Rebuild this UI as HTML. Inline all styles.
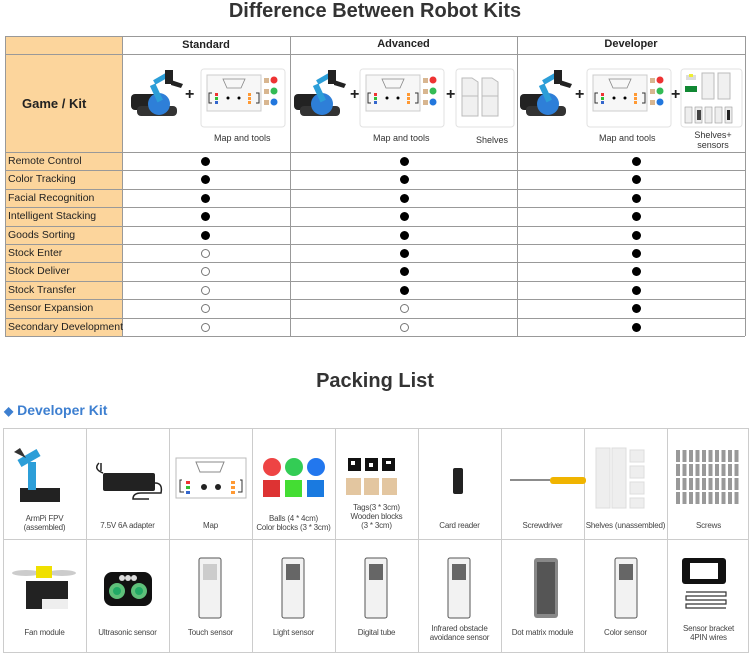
<!DOCTYPE html>
<html><head><meta charset="utf-8"><style>
*{margin:0;padding:0;box-sizing:border-box}
body{width:750px;height:655px;background:#fff;font-family:"Liberation Sans",sans-serif;position:relative;overflow:hidden;color:#222}
.a{position:absolute}
.t{position:absolute;font-size:11px;color:#333;white-space:nowrap}
.c{text-align:center}
.hl{position:absolute;height:1px;background:#999}
.vl{position:absolute;width:1px;background:#999}
.dot{position:absolute;width:9px;height:9px;border-radius:50%;background:#000}
.odot{position:absolute;width:9px;height:9px;border-radius:50%;border:1px solid #777;background:#fff}
.lab{position:absolute;left:8px;font-size:10.5px;color:#222;white-space:nowrap}
.plus{position:absolute;font-size:16px;font-weight:bold;color:#222}
.pv{position:absolute;width:1px;background:#ccc}
.pl{position:absolute;font-size:8px;color:#444;text-align:center;width:83px;line-height:9px;white-space:nowrap;letter-spacing:-0.2px}
</style></head><body>

<div class="a c" style="left:0;width:750px;top:0px;font-size:20px;font-weight:bold;color:#333">Difference Between Robot Kits</div>

<div class="a" style="left:5px;top:36px;width:117px;height:300px;background:#fcd59c"></div>
<div class="hl" style="left:5px;width:740px;top:36px"></div>
<div class="hl" style="left:5px;width:740px;top:54px"></div>
<div class="hl" style="left:5px;width:740px;top:152px"></div>
<div class="hl" style="left:5px;width:740px;top:336px"></div>
<div class="vl" style="left:5px;top:36px;height:300px"></div>
<div class="vl" style="left:122px;top:36px;height:300px"></div>
<div class="vl" style="left:290px;top:36px;height:300px"></div>
<div class="vl" style="left:517px;top:36px;height:300px"></div>
<div class="vl" style="left:745px;top:36px;height:300px"></div>

<div class="a c" style="left:122px;width:168px;top:39px;font-size:11px;font-weight:bold">Standard</div>
<div class="a c" style="left:290px;width:227px;top:38px;font-size:11px;font-weight:bold">Advanced</div>
<div class="a c" style="left:517px;width:228px;top:38px;font-size:11px;font-weight:bold">Developer</div>
<div class="a" style="left:22px;top:96px;font-size:13px;font-weight:bold;color:#222">Game / Kit</div>

<div id="rows"></div>

<svg class="a" style="left:0;top:0" width="750" height="160">
<defs>
<g id="robot">
 <rect x="0" y="22" width="30" height="16" rx="4" fill="#222"/>
 <rect x="6" y="34" width="40" height="10" rx="4" fill="#333"/>
 <circle cx="28" cy="32" r="11" fill="#2e7fd8"/>
 <rect x="22" y="12" width="6" height="18" fill="#2c9ed8" transform="rotate(-25 25 20)"/>
 <rect x="22" y="4" width="18" height="5" fill="#2c9ed8" transform="rotate(-30 30 6)"/>
 <rect x="34" y="-2" width="8" height="14" fill="#222"/>
 <path d="M40 8 l12 4 l-2 4 l-10 -3z" fill="#222"/>
</g>
<g id="map">
 <rect x="0" y="0" width="84" height="58" rx="3" fill="#fff" stroke="#e2e2e2"/>
 <rect x="6" y="6" width="54" height="36" fill="#f7f7f7" stroke="#ccc"/>
 <path d="M22 10 h22 l-4 9 h-14z" fill="none" stroke="#888" stroke-width=".8"/>
 <path d="M11 24 h-3 v10 h3 M55 24 h3 v10 h-3" fill="none" stroke="#333"/>
 <rect x="14" y="24" width="3" height="3" fill="#e33"/><rect x="14" y="28" width="3" height="3" fill="#3b3"/><rect x="14" y="32" width="3" height="3" fill="#36c"/>
 <circle cx="27" cy="29" r="1.5" fill="#000"/><circle cx="38" cy="29" r="1.5" fill="#000"/>
 <rect x="47" y="24" width="3" height="3" fill="#f93"/><rect x="47" y="28" width="3" height="3" fill="#f93"/><rect x="47" y="32" width="3" height="3" fill="#f93"/>
 <rect x="63" y="9" width="5" height="5" fill="#d8b690"/><circle cx="73" cy="11" r="3.5" fill="#e33"/>
 <rect x="63" y="20" width="5" height="5" fill="#d8b690"/><circle cx="73" cy="22" r="3.5" fill="#3b5"/>
 <rect x="63" y="31" width="5" height="5" fill="#d8b690"/><circle cx="73" cy="33" r="3.5" fill="#27d"/>
</g>
</defs>
<use href="#robot" x="131" y="72"/>
<use href="#map" x="201" y="69"/>
<use href="#robot" x="294" y="72"/>
<use href="#map" x="360" y="69"/>
<use href="#robot" x="520" y="72"/>
<use href="#map" x="587" y="69"/>
<rect x="456" y="69" width="58" height="58" rx="3" fill="#fff" stroke="#e2e2e2"/>
<path d="M462 78 h10 l6 4 v34 h-16z M482 78 h10 l6 4 v34 h-16z" fill="#f0f0f0" stroke="#bbb"/>
<path d="M462 96 h16 M482 96 h16" stroke="#bbb"/>
<rect x="681" y="69" width="61" height="58" rx="3" fill="#fff" stroke="#e2e2e2"/>
<rect x="686" y="75" width="10" height="5" fill="#ddd"/><rect x="689" y="74" width="4" height="3" fill="#ee3"/>
<rect x="685" y="86" width="12" height="6" fill="#183"/>
<path d="M702 73 h12 v26 h-12z M718 73 h12 v26 h-12z" fill="#f0f0f0" stroke="#bbb"/>
<g fill="#eee" stroke="#999" stroke-width=".6"><rect x="685" y="107" width="7" height="16"/><rect x="695" y="107" width="7" height="16"/><rect x="705" y="107" width="7" height="16"/><rect x="715" y="107" width="7" height="16"/><rect x="725" y="107" width="7" height="16"/></g>
<rect x="697" y="110" width="4" height="10" fill="#444"/><rect x="727" y="110" width="3" height="10" fill="#222"/>
</svg>
<div class="plus" style="left:185px;top:86px">+</div>
<div class="plus" style="left:350px;top:86px">+</div>
<div class="plus" style="left:446px;top:86px">+</div>
<div class="plus" style="left:575px;top:86px">+</div>
<div class="plus" style="left:671px;top:86px">+</div>
<div class="t" style="left:214px;top:133px;font-size:9px">Map and tools</div>
<div class="t" style="left:373px;top:133px;font-size:9px">Map and tools</div>
<div class="t" style="left:476px;top:135px;font-size:9px">Shelves</div>
<div class="t" style="left:599px;top:133px;font-size:9px">Map and tools</div>
<div class="t c" style="left:686px;width:54px;top:130px;font-size:9px;line-height:10px">Shelves+<br>sensors</div>

<div class="a c" style="left:0;width:750px;top:370px;font-size:20px;font-weight:bold;color:#333">Packing List</div>
<div class="a" style="left:4px;top:402px;font-size:14px;font-weight:bold;color:#3d7fd0"><span style="font-size:12px">◆</span> Developer Kit</div>

<div class="a" style="left:3px;top:428px;width:746px;height:225px;border:1px solid #ccc"></div>
<div class="a" style="left:3px;top:539px;width:746px;height:1px;background:#ccc"></div>
<div id="pv"></div>

<svg class="a" style="left:0;top:428px" width="750" height="225">
<g transform="translate(10,20)"><rect x="10" y="40" width="40" height="14" fill="#222"/><rect x="18" y="14" width="8" height="28" fill="#2c9ed8"/><rect x="8" y="6" width="22" height="8" fill="#2c9ed8" transform="rotate(-30 19 10)"/><path d="M4 4 l6 -4 l6 10 z" fill="#333"/></g>
<g transform="translate(97,35)"><rect x="6" y="10" width="52" height="18" rx="2" fill="#222"/><path d="M4 0 v8 M6 10 q-10 -4 -4 -10 M58 20 q8 0 6 10 h-20 q-8 0 -8 6 h16" stroke="#222" fill="none" stroke-width="1.5"/></g>
<g transform="translate(176,30)"><rect x="0" y="0" width="70" height="40" fill="#fff" stroke="#bbb"/><path d="M20 4 h28 l-4 10 h-20z" fill="none" stroke="#888"/><path d="M6 22 h-2 v12 h4 M64 22 h2 v12 h-4" stroke="#333" fill="none"/><rect x="10" y="23" width="4" height="3" fill="#e33"/><rect x="10" y="28" width="4" height="3" fill="#3b3"/><rect x="10" y="33" width="4" height="3" fill="#36c"/><circle cx="28" cy="29" r="3" fill="#222"/><circle cx="42" cy="29" r="3" fill="#222"/><rect x="55" y="23" width="4" height="3" fill="#f93"/><rect x="55" y="28" width="4" height="3" fill="#f93"/><rect x="55" y="33" width="4" height="3" fill="#f93"/></g>
<g transform="translate(262,30)"><circle cx="10" cy="9" r="9" fill="#ee4444"/><circle cx="32" cy="9" r="9" fill="#33cc55"/><circle cx="54" cy="9" r="9" fill="#2277ee"/><rect x="1" y="22" width="17" height="17" fill="#dd3333"/><rect x="23" y="22" width="17" height="17" fill="#44dd33"/><rect x="45" y="22" width="17" height="17" fill="#1a7ae0"/></g>
<g transform="translate(348,30)"><rect x="0" y="0" width="13" height="13" fill="#111"/><rect x="17" y="0" width="13" height="13" fill="#111"/><rect x="34" y="0" width="13" height="13" fill="#111"/><rect x="3" y="3" width="4" height="4" fill="#fff"/><rect x="21" y="5" width="4" height="4" fill="#fff"/><rect x="38" y="3" width="5" height="3" fill="#fff"/><rect x="-2" y="20" width="15" height="17" fill="#e3c6a0"/><rect x="16" y="20" width="15" height="17" fill="#e3c6a0"/><rect x="34" y="20" width="15" height="17" fill="#e3c6a0"/></g>
<rect x="453" y="40" width="10" height="26" rx="2" fill="#222"/>
<g transform="translate(510,52)"><path d="M0 0 h40" stroke="#666" stroke-width="1.5"/><rect x="40" y="-3" width="36" height="7" rx="3" fill="#f0b400"/></g>
<g fill="#eee" stroke="#ddd"><rect x="596" y="20" width="14" height="60"/><rect x="612" y="20" width="14" height="60"/><rect x="630" y="22" width="14" height="12"/><rect x="630" y="38" width="14" height="12"/><rect x="630" y="54" width="14" height="12"/><rect x="630" y="70" width="14" height="10"/></g>
<g id="scr" fill="#999"></g>
<g transform="translate(12,135)"><ellipse cx="14" cy="10" rx="14" ry="3" fill="#ccc"/><ellipse cx="50" cy="10" rx="14" ry="3" fill="#ccc"/><rect x="24" y="3" width="16" height="12" fill="#f0e000"/><rect x="14" y="18" width="42" height="28" fill="#222"/><rect x="30" y="36" width="26" height="10" fill="#eee"/></g>
<g transform="translate(104,144)"><rect x="0" y="0" width="48" height="34" rx="8" fill="#111"/><circle cx="13" cy="19" r="8" fill="#5fc07a"/><circle cx="35" cy="19" r="8" fill="#5fc07a"/><circle cx="13" cy="19" r="4" fill="#2a6"/><circle cx="35" cy="19" r="4" fill="#2a6"/><circle cx="18" cy="6" r="3" fill="#ddd"/><circle cx="24" cy="6" r="3" fill="#ddd"/><circle cx="30" cy="6" r="3" fill="#ddd"/></g>
<g id="sensors"></g>
<g transform="translate(534,130)"><rect x="0" y="0" width="24" height="60" rx="3" fill="#888"/><rect x="3" y="4" width="18" height="52" fill="#555"/></g>
<g transform="translate(682,130)"><rect x="0" y="0" width="44" height="26" rx="3" fill="#111"/><rect x="8" y="5" width="28" height="16" fill="#fff"/><path d="M4 34 h40 v4 h-40 v4 h40 v4 h-40 v4 h40" stroke="#333" fill="none" stroke-width="1.2"/></g>
</svg>

<div id="plabels"></div>

<script>
var rows=["Remote Control","Color Tracking","Facial Recognition","Intelligent Stacking","Goods Sorting","Stock Enter","Stock Deliver","Stock Transfer","Sensor Expansion","Secondary Development"];
var s=[1,1,1,1,1,0,0,0,0,0],ad=[1,1,1,1,1,1,1,1,0,0];
var h="";
for(var i=0;i<10;i++){var y=152+i*18.4;
 if(i>0)h+='<div class="hl" style="left:5px;width:740px;top:'+y+'px"></div>';
 h+='<div class="lab" style="top:'+(y+3)+'px">'+rows[i]+'</div>';
 var cy=y+5;
 h+='<div class="'+(s[i]?'dot':'odot')+'" style="left:201px;top:'+cy+'px"></div>';
 h+='<div class="'+(ad[i]?'dot':'odot')+'" style="left:400px;top:'+cy+'px"></div>';
 h+='<div class="dot" style="left:632px;top:'+cy+'px"></div>';}
document.getElementById("rows").innerHTML=h;
var xs=[3,86,169,252,335,418,501,584,667,749];var p="";
for(var j=1;j<9;j++)p+='<div class="pv" style="left:'+xs[j]+'px;top:428px;height:225px"></div>';
document.getElementById("pv").innerHTML=p;
var l1=["ArmPi FPV<br>(assembled)","7.5V 6A adapter","Map","Balls (4 * 4cm)<br>Color blocks (3 * 3cm)","Tags(3 * 3cm)<br>Wooden blocks<br>(3 * 3cm)","Card reader","Screwdriver","Shelves (unassembled)","Screws"];
var t1=[514,521,521,514,503,521,521,521,521];
var l2=["Fan module","Ultrasonic sensor","Touch sensor","Light sensor","Digital tube","Infrared obstacle<br>avoidance sensor","Dot matrix module","Color sensor","Sensor bracket<br>4PIN wires"];
var t2=[628,628,628,628,628,624,628,628,624];
var q="";
for(var k=0;k<9;k++){q+='<div class="pl" style="left:'+xs[k]+'px;top:'+t1[k]+'px">'+l1[k]+'</div>';q+='<div class="pl" style="left:'+xs[k]+'px;top:'+t2[k]+'px">'+l2[k]+'</div>';}
document.getElementById("plabels").innerHTML=q;
var ns="http://www.w3.org/2000/svg",g=document.getElementById("scr");
for(var r=0;r<4;r++)for(var c=0;c<10;c++){var e=document.createElementNS(ns,"rect");e.setAttribute("x",676+c*6.5);e.setAttribute("y",22+r*14);e.setAttribute("width",4);e.setAttribute("height",12);g.appendChild(e);}
var sg=document.getElementById("sensors"),sx=[199,282,365,448,615];
for(var m=0;m<5;m++){var b=document.createElementNS(ns,"rect");b.setAttribute("x",sx[m]);b.setAttribute("y",130);b.setAttribute("width",22);b.setAttribute("height",60);b.setAttribute("rx",2);b.setAttribute("fill","#f2f2f2");b.setAttribute("stroke","#555");sg.appendChild(b);
 var d=document.createElementNS(ns,"rect");d.setAttribute("x",sx[m]+4);d.setAttribute("y",136);d.setAttribute("width",14);d.setAttribute("height",16);d.setAttribute("fill",m==0?"#ccc":"#666");sg.appendChild(d);}
</script>
</body></html>
